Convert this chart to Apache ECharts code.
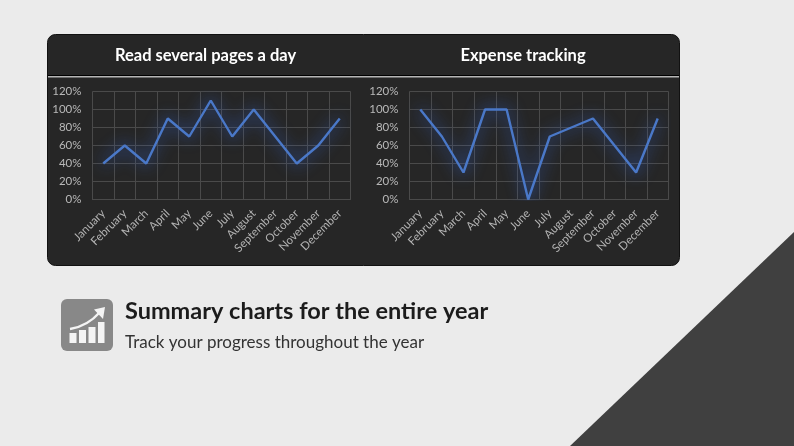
<!DOCTYPE html>
<html><head><meta charset="utf-8">
<script src="https://cdn.jsdelivr.net/npm/echarts@6/dist/echarts.min.js"></script>
<style>html,body{margin:0;padding:0;background:#ebebeb}#c{width:794px;height:446px}</style>
</head><body><div id="c"></div>
<script>
const months = ['January','February','March','April','May','June','July','August','September','October','November','December'];
const readingValues = [40,60,40,90,70,110,70,100,70,40,60,90];
const expenseValues = [100,70,30,100,100,0,70,80,90,60,30,90];
const chartTitles = ['Read several pages a day','Expense tracking'];
const headline = 'Summary charts for the entire year';
const subline = 'Track your progress throughout the year';

const grids = [{left:92.5,top:91.5,width:258,height:108},{left:409.5,top:91.5,width:259,height:108}];
const xAxis = grids.map((g,i)=>({type:'category',gridIndex:i,data:months,boundaryGap:true,
  axisLine:{lineStyle:{color:'#4a4a4a'}},axisTick:{show:false},
  axisLabel:{interval:0,rotate:45,color:'#b4b4b4',fontSize:11.5,margin:12,fontFamily:'Lato'},
  splitLine:{show:true,interval:0,lineStyle:{color:'#4a4a4a',width:1}}}));
const yAxis = grids.map((g,i)=>({type:'value',gridIndex:i,min:0,max:120,interval:20,
  axisLine:{show:false},axisTick:{show:false},
  axisLabel:{formatter:'{value}%',color:'#b9b9b9',fontSize:11.5,margin:11,fontFamily:'Lato'},
  splitLine:{lineStyle:{color:'#4a4a4a',width:1}}}));
const lineSeries = [readingValues,expenseValues].map((d,i)=>({type:'line',xAxisIndex:i,yAxisIndex:i,data:d,
  symbol:'none',smooth:false,animation:false,
  lineStyle:{color:'#4a78c8',width:2.4,shadowColor:'rgba(55,110,235,1)',shadowBlur:16}}));

const chart = echarts.init(document.getElementById('c'),null,{renderer:'canvas'});
chart.setOption({
  animation:false,backgroundColor:'#ebebeb',
  grid:grids,xAxis,yAxis,series:lineSeries,
  title:[
    {text:chartTitles[0],left:200.5,top:42,textAlign:'center',textStyle:{color:'#fff',fontSize:16.5,fontWeight:'bold',fontFamily:'Lato'}},
    {text:chartTitles[1],left:518,top:42,textAlign:'center',textStyle:{color:'#fff',fontSize:16.5,fontWeight:'bold',fontFamily:'Lato'}},
    {text:headline,left:120,top:294,textStyle:{color:'#1c1c1c',fontSize:23.5,fontWeight:'bold',fontFamily:'Lato'}},
    {text:subline,left:120,top:329,textStyle:{color:'#333',fontSize:17,fontWeight:400,fontFamily:'Lato'}}
  ],
  graphic:[
    {type:'polygon',z:-10,silent:true,shape:{points:[[794,232],[794,446],[570,446]]},style:{fill:'#404040'}},
    {type:'rect',z:-10,silent:true,shape:{x:47.5,y:34.5,width:632,height:231,r:8},style:{fill:'#262626',stroke:'#111',lineWidth:1}},
    {type:'rect',z:-9,silent:true,shape:{x:48,y:76,width:631,height:1.6},style:{fill:'#b5b5b5'}},
    {type:'rect',z:-9,silent:true,shape:{x:48,y:75,width:631,height:1},style:{fill:'#000'}},
    {type:'rect',z:-10,silent:true,shape:{x:61,y:299,width:52,height:52,r:6},style:{fill:'#888888'}},
    {type:'rect',silent:true,shape:{x:69.5,y:333,width:7,height:10},style:{fill:'#f4f4f4'}},
    {type:'rect',silent:true,shape:{x:79,y:330,width:7,height:13},style:{fill:'#f4f4f4'}},
    {type:'rect',silent:true,shape:{x:88.5,y:327,width:7,height:16},style:{fill:'#f4f4f4'}},
    {type:'rect',silent:true,shape:{x:98,y:322,width:6.5,height:21},style:{fill:'#f4f4f4'}},
    {type:'bezierCurve',silent:true,shape:{x1:70,y1:329,x2:100,y2:312,cpx1:83,cpy1:327,cpx2:93,cpy2:320},style:{stroke:'#f4f4f4',lineWidth:2.4,fill:'none'}},
    {type:'polygon',silent:true,shape:{points:[[105,307],[103,319],[94,309.5]]},style:{fill:'#f4f4f4'}}
  ]
});
</script></body></html>
